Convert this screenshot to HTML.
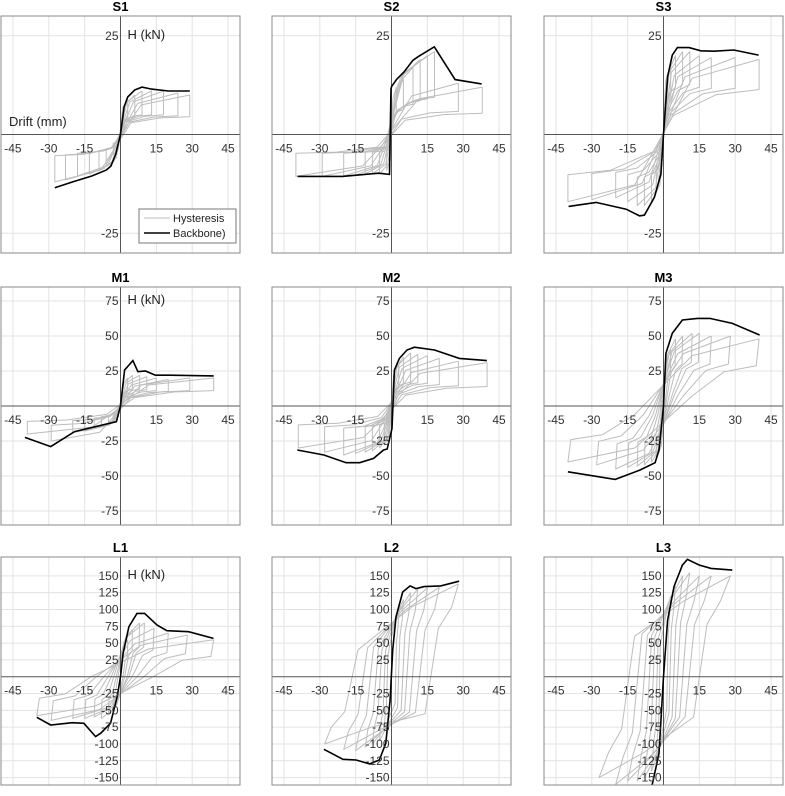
<!DOCTYPE html>
<html><head><meta charset="utf-8"><style>
body{margin:0;background:#fff}
svg{display:block;font-family:"Liberation Sans",sans-serif}
</style></head><body>
<svg id="fig" width="785" height="796" viewBox="0 0 785 796"></svg>
<script>
// ---- data ----
const xTicks=[-45,-30,-15,15,30,45];
const sTicks=[-25,25];
const mTicks=[-75,-50,-25,25,50,75];
const lTicks=[-150,-125,-100,-75,-50,-25,25,50,75,100,125,150];

const s1BackboneDrift=[-27.5,-20,-12,-6,-4,-2,0,1.5,3,6,9,13,20,29];
const s1BackboneForce=[-13.5,-12,-10.5,-9,-8,-5,0,7,9.5,11.3,12,11.5,11,11];
const s1PosDrift=[3,6,9,13,18,24,29];
const s1PosForce=[9,10,11,11,11,10.5,10];
const s1NegDrift=[-3,-6,-9,-13,-18,-23,-27.5];
const s1NegForce=[-5,-8,-9,-10,-10.5,-11.5,-12];

const s2BackboneDrift=[-39.3,-20.6,-5.4,-0.85,-0.2,0.1,2.2,5.2,9,11.4,17.9,26.6,37.7];
const s2BackboneForce=[-10.6,-10.6,-9.8,-10.1,11.6,12.2,14,15.8,18.8,19.8,22.2,13.9,12.8];
const s2PosDrift=[2,5,9,12,15,18,28,38];
const s2PosForce=[12,14,17,19,20,21,13,12];
const s2NegDrift=[-2,-5,-8,-11,-15,-20,-29,-40];
const s2NegForce=[-9,-10,-10,-10,-10.3,-10.5,-10.6,-10.6];

const s3BackboneDrift=[-39.7,-28.2,-15.6,-10,-8,-3.8,-1.1,0,1.7,3.7,5.8,10.7,15.6,21.1,29.4,39.8];
const s3BackboneForce=[-18.2,-17.2,-18.9,-20.6,-20.4,-15.9,-10,0,14.6,20.1,22,22,21.2,21.1,21.4,20.1];
const s3PosDrift=[3,5,8,11,15,20,30,40];
const s3PosForce=[18,20,21,21,20,19.5,19.5,19];
const s3NegDrift=[-3,-5,-8,-11,-15,-20,-30,-40];
const s3NegForce=[-14,-17,-18,-18,-17,-16,-16.5,-17];

const m1BackboneDrift=[-40,-29.2,-19.2,-1.7,0,1.7,5.2,7.3,10.4,14.6,20.8,39];
const m1BackboneForce=[-22.4,-29,-18.3,-11.2,0,25.7,32.4,24.5,25,22,22,21.5];
const m1PosDrift=[3,5,8,11,15,20,29,39];
const m1PosForce=[20,22,22,21,20,19,20,20];
const m1NegDrift=[-3,-5,-8,-11,-15,-20,-29,-39];
const m1NegForce=[-10,-12,-14,-16,-18,-19,-25,-20];

const m2BackboneDrift=[-39.4,-28.3,-19,-13.3,-7.5,-3.3,-1.8,0.2,1.2,3.3,6.5,9.6,18,28.4,39.9];
const m2BackboneForce=[-31.4,-35,-40.5,-40.5,-37.4,-31.4,-30.7,-16,25.7,34,40,42,40,34,32.4];
const m2PosDrift=[3,5,8,11,15,20,28,40];
const m2PosForce=[30,35,38,37,36,34,32,31];
const m2NegDrift=[-3,-5,-8,-11,-15,-20,-28,-39];
const m2NegForce=[-28,-30,-32,-33,-34,-35,-33,-30];

const m3BackboneDrift=[-40,-20.2,-9.8,-3.5,-1.9,0,1,3.7,7.9,14.2,19.4,28.8,40.2];
const m3BackboneForce=[-47,-52.4,-45.7,-40.5,-31.4,0,37.6,51.9,61.4,62.6,62.6,59,50.7];
const m3PosDrift=[3,5,8,12,15,20,28,40];
const m3PosForce=[40,48,50,52,52,50,50,48];
const m3NegDrift=[-3,-5,-8,-11,-15,-20,-28,-40];
const m3NegForce=[-38,-40,-42,-43,-44,-45,-42,-40];

const l1BackboneDrift=[-35,-29.2,-20.2,-15.3,-10.4,-8.3,-4.2,-1.4,0,1.1,3.5,6.9,10.1,15.3,19.4,28.5,38.9];
const l1BackboneForce=[-60.3,-71.8,-68.3,-69.3,-89,-84,-69.3,-29.7,0,34.7,74.3,94.2,94.2,76.8,68.4,66.9,57];
const l1PosDrift=[3,5,8,10,14,20,28,39];
const l1PosForce=[55,70,80,80,72,65,62,55];
const l1NegDrift=[-3,-5,-8,-11,-15,-20,-29,-35];
const l1NegForce=[-45,-55,-62,-60,-62,-62,-65,-58];

const l2BackboneDrift=[-28.3,-20.3,-14.8,-9.2,-5.1,-2.4,-0.6,0.5,1.9,4.7,7.8,10.2,13.7,20.6,28.3];
const l2BackboneForce=[-107.9,-122.8,-123.8,-129.7,-123.8,-99,-34.6,39.6,89,126,135,131,134,135,142];
const l2PosDrift=[3,5,8,11,15,20,28];
const l2PosForce=[100,115,125,130,132,133,138];
const l2NegDrift=[-3,-5,-8,-11,-15,-20,-28];
const l2NegForce=[-80,-95,-100,-105,-110,-108,-100];

const l3BackboneDrift=[-27.9,-19.9,-11.6,-7.4,-4.7,-1.9,0,1.7,4.4,7.9,10,15,19.9,28.8];
const l3BackboneForce=[-163,-170,-167,-172,-160,-114,0,84,134,166,174.4,166,161,158.5];
const l3PosDrift=[3,5,8,11,15,20,28];
const l3PosForce=[120,135,150,155,150,150,150];
const l3NegDrift=[-3,-5,-8,-11,-15,-20,-27];
const l3NegForce=[-120,-140,-150,-155,-155,-160,-150];

// ---- layout (geometry, not data) ----
const rows={
 S:{top:16,bottom:253,ymin:-30,ymax:30,ticks:sTicks},
 M:{top:287,bottom:525,ymin:-85,ymax:85,ticks:mTicks},
 L:{top:557,bottom:785,ymin:-161,ymax:178,ticks:lTicks}
};
const colLeft=[1,272,544];
const W=239;
const panels=[
 {t:'S1',r:'S',c:0,bd:s1BackboneDrift,bf:s1BackboneForce,pd:s1PosDrift,pf:s1PosForce,nd:s1NegDrift,nf:s1NegForce,sh:[1,.45,.15,.3]},
 {t:'S2',r:'S',c:1,bd:s2BackboneDrift,bf:s2BackboneForce,pd:s2PosDrift,pf:s2PosForce,nd:s2NegDrift,nf:s2NegForce,sh:[1,.45,.15,.3]},
 {t:'S3',r:'S',c:2,bd:s3BackboneDrift,bf:s3BackboneForce,pd:s3PosDrift,pf:s3PosForce,nd:s3NegDrift,nf:s3NegForce,sh:[1,.6,.1,.25]},
 {t:'M1',r:'M',c:0,bd:m1BackboneDrift,bf:m1BackboneForce,pd:m1PosDrift,pf:m1PosForce,nd:m1NegDrift,nf:m1NegForce,sh:[1,.55,.15,.3]},
 {t:'M2',r:'M',c:1,bd:m2BackboneDrift,bf:m2BackboneForce,pd:m2PosDrift,pf:m2PosForce,nd:m2NegDrift,nf:m2NegForce,sh:[1,.45,.15,.25]},
 {t:'M3',r:'M',c:2,bd:m3BackboneDrift,bf:m3BackboneForce,pd:m3PosDrift,pf:m3PosForce,nd:m3NegDrift,nf:m3NegForce,sh:[.97,.6,.3,.15]},
 {t:'L1',r:'L',c:0,bd:l1BackboneDrift,bf:l1BackboneForce,pd:l1PosDrift,pf:l1PosForce,nd:l1NegDrift,nf:l1NegForce,sh:[.97,.55,.35,0]},
 {t:'L2',r:'L',c:1,bd:l2BackboneDrift,bf:l2BackboneForce,pd:l2PosDrift,pf:l2PosForce,nd:l2NegDrift,nf:l2NegForce,sh:[.9,.75,.5,-.4]},
 {t:'L3',r:'L',c:2,bd:l3BackboneDrift,bf:l3BackboneForce,pd:l3PosDrift,pf:l3PosForce,nd:l3NegDrift,nf:l3NegForce,sh:[.85,.75,.45,-.4]}
];
const NS='http://www.w3.org/2000/svg';
const svg=document.getElementById('fig');
function mk(tag,attrs,parent){const e=document.createElementNS(NS,tag);for(const k in attrs)e.setAttribute(k,attrs[k]);(parent||svg).appendChild(e);return e;}

panels.forEach((p,i)=>{
 const R=rows[p.r];const L=colLeft[p.c];
 const xS=d=>L+W/2+d*(W/100);
 const yS=f=>R.top+(R.ymax-f)/(R.ymax-R.ymin)*(R.bottom-R.top);
 const g=mk('g',{});
 
 
 const cp=mk('clipPath',{id:'cp'+i},g);
 mk('rect',{x:L,y:R.top,width:W,height:R.bottom-R.top},cp);
 const title=mk('text',{x:L+W/2,y:R.top-5,'text-anchor':'middle','font-size':13,'font-weight':'bold',fill:'#000'},g);
 title.textContent=p.t;
 
 
 const grid=mk('g',{stroke:'#e3e3e3','stroke-width':1},g);
 
 
 xTicks.forEach(t=>mk('line',{x1:xS(t),x2:xS(t),y1:R.top,y2:R.bottom},grid));
 R.ticks.forEach(t=>mk('line',{x1:L,x2:L+W,y1:yS(t),y2:yS(t)},grid));
 const x0=xS(0),y0=yS(0);
 const hy=mk('g',{fill:'none',stroke:'#bdbdbd','stroke-width':1,'stroke-linejoin':'round','clip-path':'url(#cp'+i+')'},g);
 
 
 const [ux,u,zx,pp]=p.sh;
 const mx=(ux+zx)/2, mu=u*0.8+pp*0.2;
 for(let k=0;k<p.pd.length;k++){
  const dp=p.pd[k],fp=p.pf[k],dn=p.nd[k],fn=p.nf[k];
  const pts=[[dp,fp],[dp*ux,fp*u],[dp*mx,fp*mu],[dp*zx,fp*pp],[dn*0.3,fn*0.75],[dn,fn],
             [dn*ux,fn*u],[dn*mx,fn*mu],[dn*zx,fn*pp],[dp*0.3,fp*0.75],[dp,fp]];
  const pl=mk('polyline',{points:pts.map(q=>xS(q[0]).toFixed(1)+','+yS(q[1]).toFixed(1)).join(' ')},hy);
  
  
 }
 const ax=mk('g',{stroke:'#555','stroke-width':1},g);
 
 
 mk('line',{x1:L,x2:L+W,y1:y0,y2:y0},ax);
 mk('line',{x1:x0,x2:x0,y1:R.top,y2:R.bottom},ax);
 const bb=mk('polyline',{fill:'none',stroke:'#000','stroke-width':1.6,'clip-path':'url(#cp'+i+')',
  points:p.bd.map((d,j)=>xS(d).toFixed(1)+','+yS(p.bf[j]).toFixed(1)).join(' ')},g);
 
 
 const fr=mk('rect',{x:L,y:R.top,width:W,height:R.bottom-R.top,fill:'none',stroke:'#888','stroke-width':1},g);
 
 
 xTicks.forEach(t=>{const e=mk('text',{x:xS(t),y:y0+18,'text-anchor':'middle','font-size':12,fill:'#333'},g);e.textContent=t;
  
  });
 R.ticks.forEach(t=>{const e=mk('text',{x:x0-2,y:yS(t)+4,'text-anchor':'end','font-size':12,fill:'#333'},g);e.textContent=t;
  
  });
 if(p.c===0){
  const h=mk('text',{x:x0+7,y:yS(R.ticks[R.ticks.length-1])+3,'font-size':13,fill:'#222'},g);h.textContent='H (kN)';
  
  
 }
 if(i===0){
  const d=mk('text',{x:9,y:126,'font-size':13,fill:'#222'},g);d.textContent='Drift (mm)';
  
  
  const lg=mk('g',{},g);
  
  
  mk('rect',{x:139,y:209,width:97,height:34,fill:'#fff',stroke:'#777','stroke-width':1},lg);
  mk('line',{x1:144,x2:170,y1:218,y2:218,stroke:'#bdbdbd','stroke-width':1},lg);
  mk('line',{x1:144,x2:170,y1:233,y2:233,stroke:'#000','stroke-width':1.6},lg);
  const a=mk('text',{x:173,y:222,'font-size':11,fill:'#222'},lg);a.textContent='Hysteresis';
  
  
  const b=mk('text',{x:173,y:237,'font-size':11,fill:'#222'},lg);b.textContent='Backbone)';
  
  
 }
});
</script>
</body></html>
